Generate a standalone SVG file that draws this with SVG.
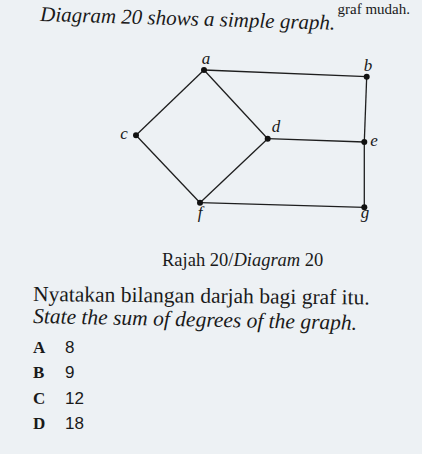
<svg xmlns="http://www.w3.org/2000/svg" width="422" height="454" viewBox="0 0 422 454">
<style>
.bg{fill:#edf1f4}
.edge{stroke:#1e1e1e;stroke-width:1.3;fill:none}
.dot{fill:#111}
.lbl{font-family:"Liberation Serif",serif;font-style:italic;font-size:17px;fill:#1a1a1a;text-anchor:middle}
.ser{font-family:"Liberation Serif",serif;fill:#1a1a1a}
.it{font-style:italic}
.num{font-family:"Liberation Sans",sans-serif;fill:#1a1a1a;font-size:17px}
</style>
<rect class="bg" x="0" y="0" width="422" height="454"/>
<text class="ser" x="410" y="14" font-size="15" text-anchor="end">graf mudah.</text>
<text class="ser it" x="40" y="21" font-size="21" transform="rotate(1.7 40 21)">Diagram 20 shows a simple graph.</text>
<g id="connectors">
<line class="edge" x1="204" y1="70" x2="366.7" y2="76.7"/>
<line class="edge" x1="204" y1="70" x2="136" y2="135.3"/>
<line class="edge" x1="204" y1="70" x2="267.7" y2="138.7"/>
<line class="edge" x1="136" y1="135.3" x2="200" y2="202.7"/>
<line class="edge" x1="267.7" y1="138.7" x2="200" y2="202.7"/>
<line class="edge" x1="267.7" y1="138.7" x2="364.3" y2="142"/>
<line class="edge" x1="366.7" y1="76.7" x2="364.3" y2="142"/>
<line class="edge" x1="364.3" y1="142" x2="364.3" y2="207.3"/>
<line class="edge" x1="200" y1="202.7" x2="364.3" y2="207.3"/>
</g>
<g id="node-a"><circle class="dot" cx="204" cy="70" r="3"/><text class="lbl" x="206" y="64">a</text></g>
<g id="node-b"><circle class="dot" cx="366.7" cy="76.7" r="3"/><text class="lbl" x="368" y="71">b</text></g>
<g id="node-c"><circle class="dot" cx="136" cy="135.3" r="3"/><text class="lbl" x="124" y="139">c</text></g>
<g id="node-d"><circle class="dot" cx="267.7" cy="138.7" r="3"/><text class="lbl" x="276" y="132">d</text></g>
<g id="node-e"><circle class="dot" cx="364.3" cy="142" r="3"/><text class="lbl" x="374" y="146">e</text></g>
<g id="node-f"><circle class="dot" cx="200" cy="202.7" r="3"/><text class="lbl" x="200" y="218">f</text></g>
<g id="node-g"><circle class="dot" cx="364.3" cy="207.3" r="3"/><text class="lbl" x="365" y="218">g</text></g>
<text class="ser" x="162" y="266" font-size="18.5">Rajah 20/<tspan class="it">Diagram</tspan> 20</text>
<text class="ser" x="33" y="301" font-size="21.5" transform="rotate(0.6 33 301)">Nyatakan bilangan darjah bagi graf itu.</text>
<text class="ser it" x="33" y="323" font-size="21.5" transform="rotate(1.2 33 323)">State the sum of degrees of the graph.</text>
<text class="ser" x="33" y="353" font-size="17" font-weight="bold">A</text><text class="num" x="65" y="353">8</text>
<text class="ser" x="33" y="378" font-size="17" font-weight="bold">B</text><text class="num" x="65" y="378">9</text>
<text class="ser" x="33" y="404" font-size="17" font-weight="bold">C</text><text class="num" x="65" y="404">12</text>
<text class="ser" x="33" y="429" font-size="17" font-weight="bold">D</text><text class="num" x="65" y="429">18</text>
</svg>
